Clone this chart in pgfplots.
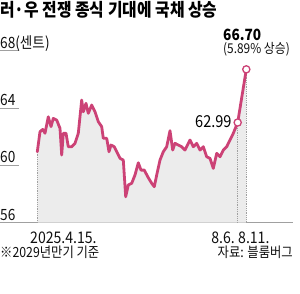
\documentclass[border=0pt]{standalone}
\usepackage{pgfplots}
\pgfplotsset{compat=1.18}
\usepackage{fontspec}
\setmainfont{Noto Sans CJK KR}[FakeStretch=0.88]
\definecolor{linepink}{RGB}{204,66,118}
\definecolor{fillgray}{RGB}{236,236,236}
\definecolor{tickgray}{RGB}{160,160,160}
\definecolor{txt}{RGB}{15,15,15}
\begin{document}
\begin{tikzpicture}[x=1pt,y=1pt]
\path[use as bounding box] (0,-70.3) rectangle (300,222.7);
\begin{axis}[at={(0,0)}, anchor=south west, scale only axis,
  width=293pt, height=172pt, xmin=0, xmax=293, ymin=56, ymax=68, clip=false,
  axis x line=bottom, axis y line=left,
  x axis line style={-, draw=tickgray, line width=1pt},
  y axis line style={draw=none},
  xtick=\empty, ytick={56,60,64,68}, yticklabels={56,60,64,68(센트)},
  ytick style={draw=tickgray, line width=0.8pt}, major tick length=19pt, tick align=inside,
  yticklabel style={anchor=base west, inner sep=0pt, yshift=2.7pt, font=\fontsize{15.5}{15.5}\selectfont, text=txt}]
\addplot[fill=fillgray, draw=none] coordinates {
(37.3,56) (37.3,60.95) (40,62.35) (42.7,62.51) (45,62.24) (48.3,63.39) (51,62.70) (53.3,63.28)
(56.7,63.16) (60,62.58) (61.7,60.72) (63.3,62.24) (66,62.24) (68.3,61.30) (71.7,61.30) (75,61.54)
(78.3,62.24) (81.7,64.56) (83.3,63.74) (86,64.33) (88.3,63.63) (91.7,64.21) (95,63.74) (98.3,63.05)
(101.7,62.70) (103.3,61.89) (106.7,61.89) (109,60.95) (111,61.42) (114.3,61.30) (116.7,60.95)
(120,60.49) (123.3,60.37) (125.7,57.81) (128.3,58.63) (131.7,58.75) (135,59.33) (138.3,60.18)
(141,59.67) (144.3,59.67) (147.7,59.21) (151.7,58.75) (154.3,58.51) (156.7,59.33) (160,60.37)
(163.3,60.95) (166.7,61.30) (170,62.42) (172.7,61.07) (175,61.54) (178.3,61.42) (181.7,61.30)
(185,61.07) (190,61.77) (193.3,61.30) (196.7,61.54) (200,61.07) (203.3,61.30) (206.7,60.60)
(210,60.49) (213.3,59.79) (216.7,60.84) (220,60.60) (223.3,61.07) (226.7,61.30) (230,61.77)
(233.3,62.24) (237.7,62.99) (246.3,66.70) (246.3,56)};
\draw[tickgray, densely dotted, line width=0.8pt] (axis cs:37.3,60.95) -- (axis cs:37.3,56);
\draw[tickgray, densely dotted, line width=0.8pt] (axis cs:237.7,62.99) -- (axis cs:237.7,56);
\draw[tickgray, densely dotted, line width=0.8pt] (axis cs:246.3,66.70) -- (axis cs:246.3,56);
\addplot[linepink, line width=2.8pt, line join=round, line cap=round] coordinates {
(37.3,60.95) (40,62.35) (42.7,62.51) (45,62.24) (48.3,63.39) (51,62.70) (53.3,63.28)
(56.7,63.16) (60,62.58) (61.7,60.72) (63.3,62.24) (66,62.24) (68.3,61.30) (71.7,61.30) (75,61.54)
(78.3,62.24) (81.7,64.56) (83.3,63.74) (86,64.33) (88.3,63.63) (91.7,64.21) (95,63.74) (98.3,63.05)
(101.7,62.70) (103.3,61.89) (106.7,61.89) (109,60.95) (111,61.42) (114.3,61.30) (116.7,60.95)
(120,60.49) (123.3,60.37) (125.7,57.81) (128.3,58.63) (131.7,58.75) (135,59.33) (138.3,60.18)
(141,59.67) (144.3,59.67) (147.7,59.21) (151.7,58.75) (154.3,58.51) (156.7,59.33) (160,60.37)
(163.3,60.95) (166.7,61.30) (170,62.42) (172.7,61.07) (175,61.54) (178.3,61.42) (181.7,61.30)
(185,61.07) (190,61.77) (193.3,61.30) (196.7,61.54) (200,61.07) (203.3,61.30) (206.7,60.60)
(210,60.49) (213.3,59.79) (216.7,60.84) (220,60.60) (223.3,61.07) (226.7,61.30) (230,61.77)
(233.3,62.24) (237.7,62.99) (246.3,66.70)};
\addplot[only marks, mark=*, mark size=3.6pt, mark options={fill=white, draw=linepink, line width=1.3pt}]
  coordinates {(237.7,62.99) (246.3,66.70)};
\end{axis}
\node[anchor=base west, inner sep=0pt, font=\fontsize{18}{18}\selectfont\bfseries] at (0,206.5) {러·우 전쟁 종식 기대에 국채 상승};
\node[anchor=base west, inner sep=0pt, font=\fontsize{15.5}{15.5}\selectfont\bfseries] at (223,182.2) {66.70};
\node[anchor=base west, inner sep=0pt, font=\fontsize{13.5}{13.5}\selectfont, text=txt] at (223,169.2) {(5.89\% 상승)};
\node[anchor=base east, inner sep=0pt, font=\fontsize{16.5}{16.5}\selectfont] at (231.7,95.7) {62.99};
\node[anchor=base west, inner sep=0pt, font=\fontsize{16}{16}\selectfont, text=txt] at (30,-20.3) {2025.4.15.};
\node[anchor=base east, inner sep=0pt, font=\fontsize{16}{16}\selectfont, text=txt] at (235,-20.3) {8.6.};
\node[anchor=base west, inner sep=0pt, font=\fontsize{16}{16}\selectfont, text=txt] at (238,-20.3) {8.11.};
\node[anchor=base west, inner sep=0pt, font=\fontsize{14}{14}\selectfont, text=txt] at (0,-34.8) {※2029년만기 기준};
\node[anchor=base east, inner sep=0pt, font=\fontsize{14}{14}\selectfont, text=txt] at (293,-34.8) {자료: 블룸버그};
\end{tikzpicture}
\end{document}
